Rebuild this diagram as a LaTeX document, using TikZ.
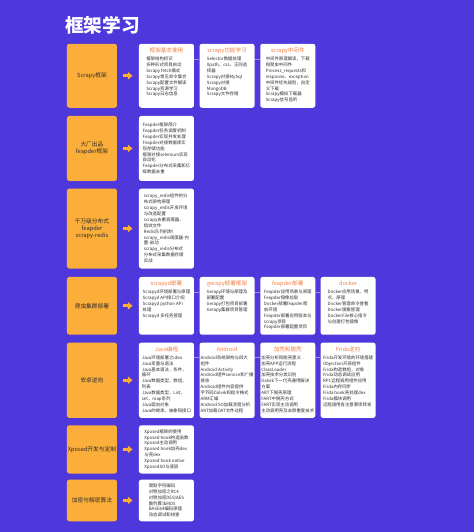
\documentclass[tikz,border=0pt]{standalone}
\usepackage{fontspec}
\setmainfont{Noto Sans CJK SC}
\usetikzlibrary{calc,arrows.meta}
\definecolor{bgblue}{RGB}{78,56,220}
\definecolor{sideorange}{RGB}{252,174,58}
\definecolor{headorange}{RGB}{240,125,65}
\definecolor{textdark}{RGB}{45,45,45}

\begin{document}
\begin{tikzpicture}[x=0.75pt,y=0.75pt,yscale=-1,xscale=1,
  side/.style={fill=sideorange, rounded corners=1.8pt, anchor=north west, inner sep=0pt, minimum width=37.5pt, align=center, text=textdark, font=\fontsize{4.3}{5.3}\selectfont},
  card/.style={fill=white, rounded corners=1.8pt, anchor=north west, inner sep=0pt, minimum width=41.25pt},
  head/.style={anchor=north, inner sep=0pt, text=headorange, font=\fontsize{4.2}{5}\selectfont},
  items/.style={inner sep=0pt, align=left, text=textdark, font=\fontsize{3.3}{4.4}\selectfont},
  push/.style={sideorange, line width=2.2pt, -{Triangle[length=3.6pt,width=5.6pt]}},
  link/.style={white, opacity=0.45, line width=0.4pt}]
%set diagram left start at 0, and has height of 532
\useasboundingbox (0,0) rectangle (474,532);
\fill[bgblue] (0,0) rectangle (474,532);

% Title
\node[anchor=west, inner sep=0pt, text=white, font=\fontsize{14}{16}\bfseries\selectfont] (title) at (65,25) {框架学习};

%Row 1: Scrapy
\node[side, minimum height=48pt] (scrapy) at (66.7,43.5) {Scrapy框架};
\node[card, minimum height=48pt] (basic) at (138.7,43.5) {};
\node[card, minimum height=48pt] (func) at (199.3,43.5) {};
\node[card, minimum height=48pt] (mid) at (260,43.5) {};
\node[head] (basicH) at ($(basic.north)+(0,4)$) {框架基本使用};
\node[items, anchor=north] (basicT) at ($(basic.north)+(0,13.3)$) {框架结构初识\\多种形式项目启动\\Scrapy fetch模式\\Scrapy常见命令集合\\Scrapy配置文件解读\\Scrapy资源学习\\Scrapy日志信息};
\node[head] (funcH) at ($(func.north)+(0,4)$) {scrapy功能学习};
\node[items, anchor=north] (funcT) at ($(func.north)+(0,13.3)$) {Selector数据处理\\Xpath、css、正则选\\择器\\Scrapy对接MySql\\Scrapy对接\\MongoDB\\Scrapy文件存储};
\node[head] (midH) at ($(mid.north)+(0,4)$) {scrapy中间件};
\node[items, anchor=north] (midT) at ($(mid.north)+(0,13.3)$) {中间件原理解读，下载\\和爬虫中间件\\Process\_requests和\\response、exception\\中间件优先级别，自定\\义下载\\Scrapy模拟下载器\\Scrapy信号监听};
\draw[link] ($(basic.north east)+(0,16)$) -- ($(func.north west)+(0,16)$);
\draw[link] ($(func.north east)+(0,16)$) -- ($(mid.north west)+(0,16)$);
\draw[push] ([xshift=4.5pt]scrapy.east) -- ([xshift=-4.6pt]basic.west);

%Row 2: feapder
\node[side, minimum height=48.75pt] (feapder) at (66.7,115.7) {大厂出品\\feapder框架};
\node[card, minimum height=48.75pt] (fpd) at (138.7,115.7) {};
\node[items] (fpdT) at (fpd.center) {Feapder框架简介\\Feapder任务调度机制\\Feapder实现并发处理\\Feapder对接数据库实\\现存储功能\\框架对接selenium实现\\自动化\\Feapder分布式采集和亿\\级数据去重};
\draw[push] ([xshift=4.5pt]feapder.east) -- ([xshift=-4.6pt]fpd.west);

%Row 3: scrapy-redis
\node[side, minimum height=60pt] (redis) at (66.7,188.3) {千万级分布式\\feapder\\scrapy-redis};
\node[card, minimum height=60pt] (rds) at (138.7,188.3) {};
\node[items] (rdsT) at (rds.center) {scrapy\_redis组件的分\\布式架构原理\\scrapy\_redis开发环境\\与改造配置\\scrapy去重调度器、\\指纹文件\\Redis队列机制\\scrapy\_redis调度器-内\\置-启动\\scrapy\_redis分布式\\分布式采集数据存储\\实战};
\draw[push] ([xshift=4.5pt]redis.east) -- ([xshift=-4.6pt]rds.west);

%Row 4: deploy
\node[side, minimum height=43.3pt] (deploy) at (66.7,276.7) {爬虫集群部署};
\node[card, minimum height=43.3pt] (scrapyd) at (138.7,276.7) {};
\node[card, minimum height=43.3pt] (gerapy) at (199.3,276.7) {};
\node[card, minimum height=43.3pt] (fdeploy) at (260,276.7) {};
\node[card, minimum height=43.3pt] (docker) at (320.3,276.7) {};
\node[head] (scrapydH) at ($(scrapyd.north)+(0,4)$) {scrapyd部署};
\node[items, anchor=north] (scrapydT) at ($(scrapyd.north)+(0,13)$) {Scrapyd环境部署与原理\\Scrapyd API接口介绍\\Scrapyd python API\\处理\\Scrapyd 多任务管理};
\node[head] (gerapyH) at ($(gerapy.north)+(0,4)$) {gerapy部署框架};
\node[items, anchor=north] (gerapyT) at ($(gerapy.north)+(0,13)$) {Gerapy环境与原理及\\部署配置\\Gerapy打包项目部署\\Gerapy集群项目管理};
\node[head] (fdeployH) at ($(fdeploy.north)+(0,4)$) {feapder部署};
\node[items, anchor=north] (fdeployT) at ($(fdeploy.north)+(0,13)$) {Feapder应用场景与原理\\Feapder镜像拉取\\Docker部署feapder爬\\虫环境\\Feapder部署应用版本与\\scrapy项目\\Feapder部署配置项目};
\node[head] (dockerH) at ($(docker.north)+(0,4)$) {docker};
\node[items, anchor=north] (dockerT) at ($(docker.north)+(0,13)$) {Docker应用场景、特\\点、原理\\Docker管理命令查看\\Docker镜像管理\\DockerFile核心指令\\与创建打包镜像};
\draw[link] ($(scrapyd.north east)+(0,16)$) -- ($(gerapy.north west)+(0,16)$);
\draw[link] ($(gerapy.north east)+(0,16)$) -- ($(fdeploy.north west)+(0,16)$);
\draw[link] ($(fdeploy.north east)+(0,16)$) -- ($(docker.north west)+(0,16)$);
\draw[push] ([xshift=4.5pt]deploy.east) -- ([xshift=-4.6pt]scrapyd.west);

%Row 5: android
\node[side, minimum height=56.5pt] (android) at (66.7,342.3) {安卓逆向};
\node[card, minimum height=56.5pt] (java) at (138.7,342.3) {};
\node[card, minimum height=56.5pt] (andr) at (199.3,342.3) {};
\node[card, minimum height=56.5pt] (shell) at (260,342.3) {};
\node[card, minimum height=56.5pt] (frida) at (320.3,342.3) {};
\node[head] (javaH) at ($(java.north)+(0,4)$) {Java编程};
\node[items, anchor=north] (javaT) at ($(java.north)+(0,13)$) {Java环境部署之idea\\Java变量与语法\\Java基本语法，条件，\\循环\\Java数据类型，数组，\\列表\\Java数据类型，List，\\set，map系列\\Java面向对象\\Java的继承，抽象和接口};
\node[head] (andrH) at ($(andr.north)+(0,4)$) {Android};
\node[items, anchor=north] (andrT) at ($(andr.north)+(0,13)$) {Android系统架构与四大\\组件\\Android Activity\\Android组件service和广播\\接收\\Android组件内容提供\\字节码Dalvik和指令格式\\ARM汇编\\Android SO加载流程分析\\ART加载OAT文件过程};
\node[head] (shellH) at ($(shell.north)+(0,4)$) {加壳和脱壳};
\node[items, anchor=north] (shellT) at ($(shell.north)+(0,13)$) {加壳分析和脱壳意义\\加壳APP运行流程\\ClassLoader\\加壳技术分类识别\\Dalvik下一代壳通用解决\\方案\\ART下脱壳原理\\FART中脱壳方式\\FART实现主动调用\\主动调用壳及去除重复技术};
\node[head] (fridaH) at ($(frida.north)+(0,4)$) {Frida逆向};
\node[items, anchor=north] (fridaT) at ($(frida.north)+(0,13)$) {Frida开发环境的环境搭建\\Objection开源组件\\Frida构造数组，对象\\Frida动态调试应用\\RPC远程调用组件应用\\Frida内存同步\\Frida hook壳处理dex\\Frida模块调用\\远程调用各注意事项转发};
\draw[link] ($(java.north east)+(0,15)$) -- ($(andr.north west)+(0,15)$);
\draw[link] ($(andr.north east)+(0,15)$) -- ($(shell.north west)+(0,15)$);
\draw[link] ($(shell.north east)+(0,15)$) -- ($(frida.north west)+(0,15)$);
\draw[push] ([xshift=4.5pt]android.east) -- ([xshift=-4.6pt]java.west);

%Row 6: xposed
\node[side, minimum height=36.2pt] (xposed) at (66.7,425) {Xposed开发与定制};
\node[card, minimum height=36.2pt] (xpd) at (138.7,425) {};
\node[items] (xpdT) at (xpd.center) {Xposed框架的使用\\Xposed hook构造函数\\Xposed主动调用\\Xposed hook加壳dex\\与壳dex\\Xposed hook native\\XposedSO与底层};
\draw[push] ([xshift=4.5pt]xposed.east) -- ([xshift=-4.6pt]xpd.west);

%Row 7: crypto
\node[side, minimum height=31.3pt] (crypto) at (66.7,479.3) {加密与解密算法};
\node[card, minimum height=31.3pt] (cry) at (138.7,479.3) {};
\node[items] (cryT) at (cry.center) {爬取字符编码\\对称加密之RC4\\对称加密DES/AES\\散列算法MD5\\BASE64编码原理\\动态调试和排查};
\draw[push] ([xshift=4.5pt]crypto.east) -- ([xshift=-4.6pt]cry.west);
\end{tikzpicture}
\end{document}
